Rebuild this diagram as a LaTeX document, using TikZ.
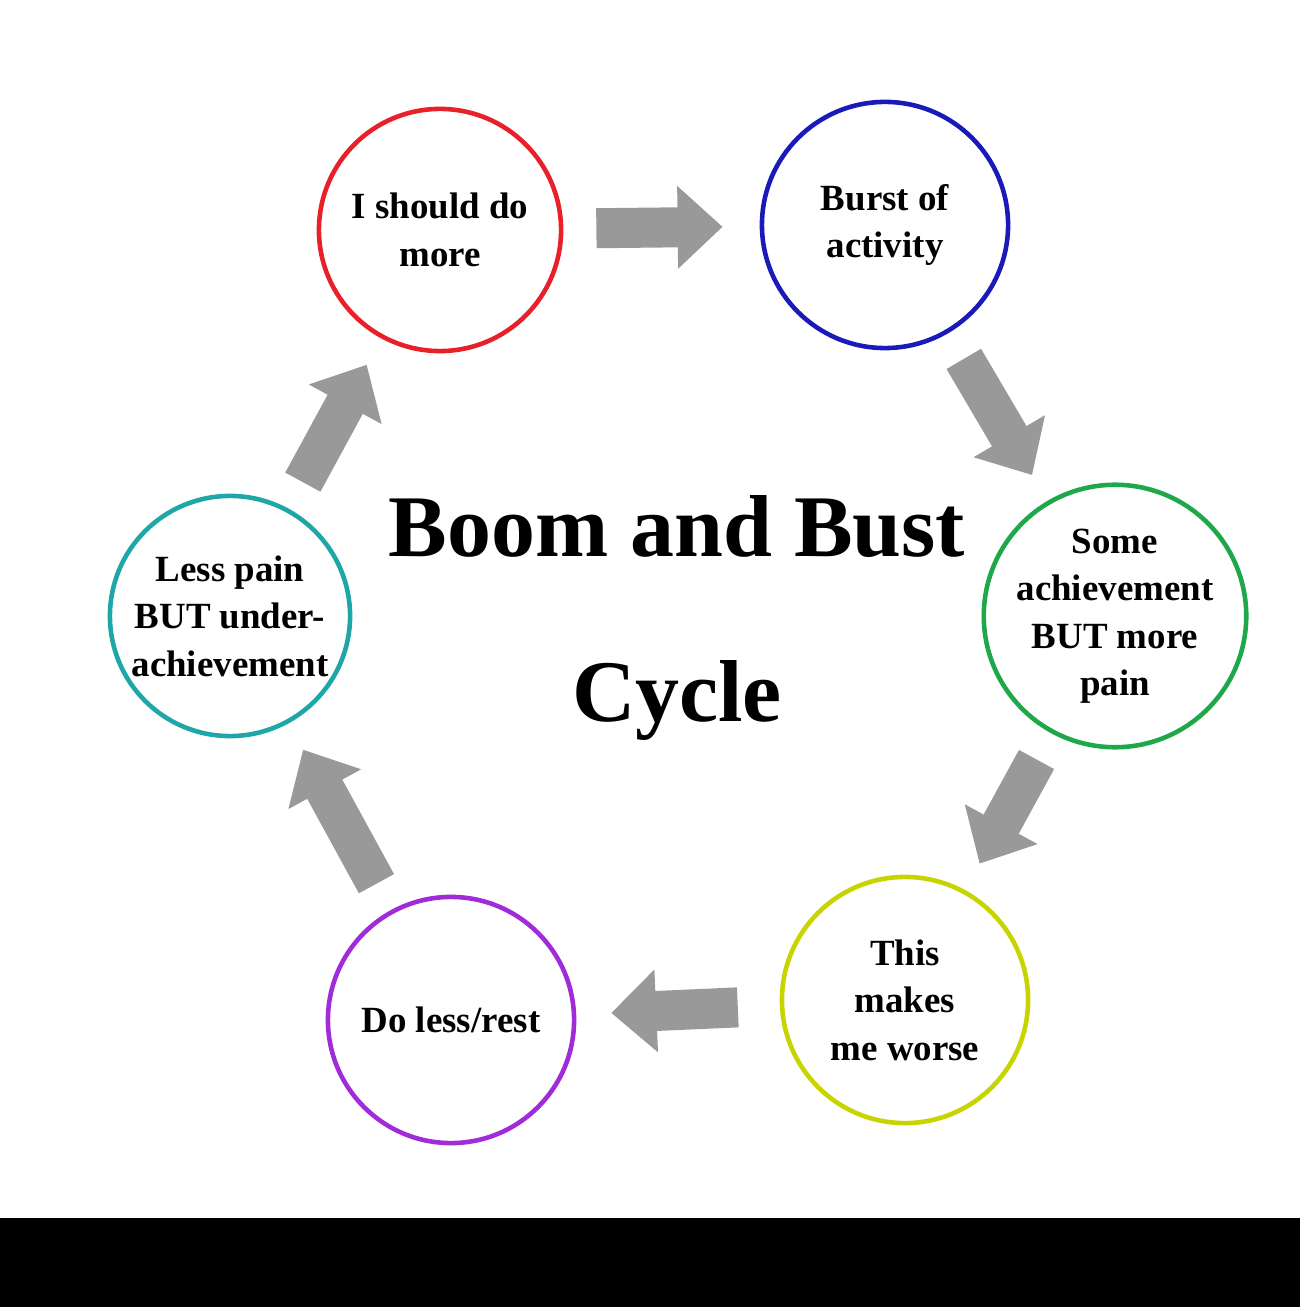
\documentclass[tikz,border=0pt]{standalone}
\usepackage{fontspec}
\setmainfont{Liberation Serif}
\usetikzlibrary{arrows.meta}
\definecolor{arrowgray}{HTML}{999999}
\definecolor{cred}{HTML}{E8202A}
\definecolor{cblue}{HTML}{1A1AB8}
\definecolor{cgreen}{HTML}{1EA84A}
\definecolor{cyellow}{HTML}{C8D400}
\definecolor{cpurple}{HTML}{A02BD8}
\definecolor{cteal}{HTML}{1FA6A6}
\tikzset{
  stage/.style={circle,draw=#1,line width=1.3pt,minimum size=7.1cm,
    font=\bfseries\fontsize{10.5}{13.5}\selectfont,align=center,inner sep=0pt},
  bigarrow/.style={arrowgray,line width=0.4cm,
    -{Triangle[length=0.45cm,width=0.8cm]}}
}
\begin{document}
\begin{tikzpicture}[x=0.01cm,y=-0.01cm]
   \useasboundingbox (0,0) rectangle (1300,1307);
   \fill[black] (0,1218) rectangle (1300,1307);
   % stages
   \node[stage=cred,minimum size=2.42cm] (more) at (440,230) {I should do\\more};
   \node[stage=cblue,minimum size=2.46cm] (burst) at (885,225) {Burst of\\activity};
   \node[stage=cgreen,minimum size=2.46cm] (some) at (1115,616) {Some\\achievement\\BUT more\\pain};
   \node[stage=cyellow,minimum size=2.46cm] (worse) at (905,1000) {This\\makes\\me worse};
   \node[stage=cpurple,minimum size=2.46cm] (rest) at (451,1020) {Do less/rest};
   \node[stage=cteal,minimum size=2.4cm] (less) at (230,616) {Less pain\\BUT under-\\achievement};
   % title
   \node[font=\bfseries\fontsize{25}{47}\selectfont,align=center] (title) at (677,618)
     {Boom and Bust\\Cycle};
   % arrows
   \draw[bigarrow,shorten <=0.33cm,shorten >=0.37cm] (more) -- (burst);
   \draw[bigarrow,shorten <=0.3cm,shorten >=0.3cm] (burst) -- (some);
   \draw[bigarrow,shorten <=0.3cm,shorten >=0.3cm] (some) -- (worse);
   \draw[bigarrow,shorten <=0.42cm,shorten >=0.35cm] (worse) -- (rest);
   \draw[bigarrow,shorten <=0.3cm,shorten >=0.3cm] (rest) -- (less);
   \draw[bigarrow,shorten <=0.3cm,shorten >=0.3cm] (less) -- (more);
\end{tikzpicture}
\end{document}
